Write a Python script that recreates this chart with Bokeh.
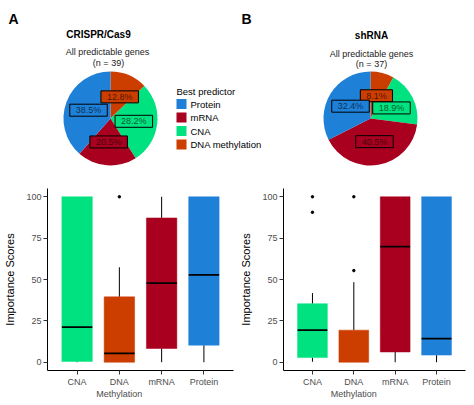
import numpy as np
from bokeh.plotting import figure
from bokeh.layouts import column, row
from bokeh.models import Range1d, FactorRange
from bokeh.core.properties import value
from bokeh.embed import file_html
from bokeh.resources import INLINE

FONT = "Liberation Sans"

# ---- pie data (clockwise from 12 o'clock) ----
pie_categories = ["DNA methylation", "CNA", "mRNA", "Protein"]
crispr_pct = [12.8, 28.2, 20.5, 38.5]
shrna_pct = [8.1, 18.9, 40.5, 32.4]
crispr_n = 39
shrna_n = 37

legend_order = ["Protein", "mRNA", "CNA", "DNA methylation"]
colors = {"Protein": "#1F80D8", "mRNA": "#A8001E", "CNA": "#00E27F", "DNA methylation": "#CC3D00"}

# ---- box plot data ----
box_categories = ["CNA", "DNA\nMethylation", "mRNA", "Protein"]
box_color_keys = ["CNA", "DNA methylation", "mRNA", "Protein"]

crispr_lower = [0, 0, 0, 0]
crispr_q1 = [0.5, 0, 8.3, 10.3]
crispr_median = [21.2, 5.3, 47.8, 52.8]
crispr_q3 = [100, 39.5, 87.2, 100]
crispr_upper = [100, 57.4, 100, 100]
crispr_out_cat = ["DNA\nMethylation"]
crispr_out_val = [100]

shrna_lower = [0.3, 0, 0, 0]
shrna_q1 = [2.8, 0, 6.2, 4.3]
shrna_median = [19.4, 0, 69.9, 14.3]
shrna_q3 = [35.4, 19.4, 100, 100]
shrna_upper = [41.8, 48.4, 100, 100]
shrna_out_cat = ["CNA", "CNA", "DNA\nMethylation", "DNA\nMethylation"]
shrna_out_val = [100, 90.6, 100, 55.4]

y_ticks = [0, 25, 50, 75, 100]

# ---------------- top panel (pies + legend) ----------------
top = figure(width=470, height=173, x_range=Range1d(0, 470), y_range=Range1d(-173, 0),
             output_backend="svg", toolbar_location=None, min_border=0,
             x_axis_location=None, y_axis_location=None)
top.grid.visible = False
top.outline_line_color = None


def draw_pie(p, cx, cy, r, pct):
    frac = np.array(pct, dtype=float) / sum(pct)
    cum = np.concatenate([[0.0], np.cumsum(frac)])
    t1 = cum[:-1] * 2 * np.pi
    t2 = cum[1:] * 2 * np.pi
    fills = [colors[c] for c in pie_categories]
    p.wedge(x=cx, y=cy, radius=r, start_angle=np.pi / 2 - t2, end_angle=np.pi / 2 - t1,
            fill_color=fills, line_color=None)
    mid = (t1 + t2) / 2
    lx = cx + r / 2 * np.sin(mid)
    ly = cy + r / 2 * np.cos(mid)
    labels = [f"{v}%" for v in pct]
    widths = [5.3 * len(s) + 11 for s in labels]
    p.rect(x=lx, y=ly, width=widths, height=12, fill_color=fills, line_color="black", line_width=1)
    p.text(x=lx, y=ly, text=labels, text_align="center", text_baseline="middle",
           text_font=value(FONT), text_font_size="9px", text_color="black", text_alpha=0.65)


draw_pie(top, 110, -118, 47, crispr_pct)
draw_pie(top, 370, -118, 47, shrna_pct)

# panel letters
top.text(x=[8, 241], y=[-18, -18], text=["A", "B"], text_font=value(FONT), text_font_size="14px",
         text_font_style="bold", text_align="left", text_baseline="middle", text_color="black")
# titles
top.text(x=[98, 371], y=[-34, -35], text=["CRISPR/Cas9", "shRNA"], text_font=value(FONT),
         text_font_size="10px", text_font_style="bold", text_align="center", text_baseline="middle",
         text_color="black")
top.text(x=[107, 108, 371, 371], y=[-51, -62, -53, -63],
         text=["All predictable genes", f"(n = {crispr_n})", "All predictable genes", f"(n = {shrna_n})"],
         text_font=value(FONT), text_font_size="9px", text_align="center", text_baseline="middle",
         text_color="#222222")

# legend
top.text(x=[176], y=[-91], text=["Best predictor"], text_font=value(FONT), text_font_size="9.5px",
         text_align="left", text_baseline="middle", text_color="black")
leg_y = [-103.5 - 13.5 * i for i in range(len(legend_order))]
top.rect(x=[181] * len(legend_order), y=leg_y, width=10, height=10,
         fill_color=[colors[c] for c in legend_order], line_color=None)
top.text(x=[190] * len(legend_order), y=leg_y, text=legend_order, text_font=value(FONT),
         text_font_size="9.5px", text_align="left", text_baseline="middle", text_color="black")


# ---------------- box plots ----------------
def box_fig(lower, q1, med, q3, upper, oc, ov, width, left, right):
    p = figure(width=width, height=228,
               x_range=FactorRange(factors=box_categories, range_padding=0.2, range_padding_units="absolute"),
               y_range=Range1d(-5, 105), output_backend="svg", toolbar_location=None,
               min_border_left=left, min_border_right=right, min_border_top=15, min_border_bottom=31)
    p.grid.visible = False
    p.outline_line_color = None
    fills = [colors[c] for c in box_color_keys]
    p.segment(x0=box_categories, y0=q3, x1=box_categories, y1=upper, line_color="black", line_width=1)
    p.segment(x0=box_categories, y0=q1, x1=box_categories, y1=lower, line_color="black", line_width=1)
    p.vbar(x=box_categories, bottom=q1, top=q3, width=0.72, fill_color=fills, line_color=fills, line_width=0.5)
    mc = [c for c, m, b in zip(box_categories, med, q1) if m > b]
    mv = [m for m, b in zip(med, q1) if m > b]
    p.rect(x=mc, y=mv, width=0.72, height=1.8, height_units="screen",
           fill_color="black", line_color=None)
    p.scatter(x=oc, y=ov, size=2.5, color="black")
    p.yaxis.ticker = y_ticks
    p.yaxis.axis_label = "Importance Scores"
    for ax in (p.xaxis, p.yaxis):
        ax.axis_line_color = "black"
        ax.axis_line_width = 1
        ax.major_tick_line_color = "#333333"
        ax.major_tick_out = 4
        ax.major_tick_in = 0
        ax.minor_tick_line_color = None
        ax.major_label_text_font = FONT
        ax.major_label_text_font_size = "9px"
        ax.major_label_text_color = "#4D4D4D"
        ax.major_label_standoff = 2
    p.yaxis.axis_label_text_font = FONT
    p.yaxis.axis_label_text_font_size = "11px"
    p.yaxis.axis_label_text_font_style = "normal"
    p.yaxis.axis_label_text_color = "black"
    p.yaxis.axis_label_standoff = 7
    return p


boxA = box_fig(crispr_lower, crispr_q1, crispr_median, crispr_q3, crispr_upper,
               crispr_out_cat, crispr_out_val, 237, 47, 4)
boxB = box_fig(shrna_lower, shrna_q1, shrna_median, shrna_q3, shrna_upper,
               shrna_out_cat, shrna_out_val, 233, 42, 5)

layout = column(top, row(boxA, boxB))
open("out.html", "w").write(file_html(layout, INLINE))
